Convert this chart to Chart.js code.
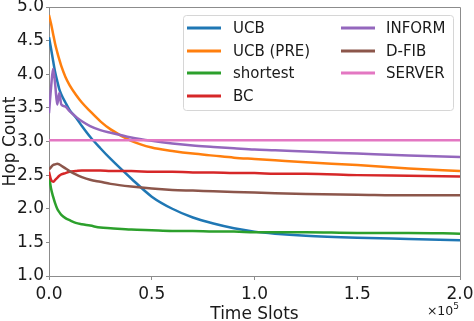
<!DOCTYPE html>
<html>
<head>
<meta charset="utf-8">
<script src="https://cdn.jsdelivr.net/npm/chart.js@4.4.0/dist/chart.umd.min.js"></script>
<style>
  html, body { margin: 0; padding: 0; background: #fff; }
  #wrap { width: 474px; height: 321px; position: relative; }
</style>
</head>
<body>
<div id="wrap"><canvas id="hopChart"></canvas></div>
<script>
//Data

const timeSlots = [0, 1000, 2000, 3000, 4000, 5000, 6000, 8000, 10000, 13000, 16000, 20000, 25000, 30000,
  40000, 50000, 60000, 70000, 80000, 90000, 100000, 110000, 125000, 150000, 175000, 200000];

const ucb = [4.55, 4.38, 4.20, 4.03, 3.90, 3.78, 3.70, 3.58, 3.47, 3.36, 3.23, 3.07, 2.90, 2.74,
  2.45, 2.18, 2.00, 1.87, 1.78, 1.71, 1.66, 1.63, 1.60, 1.57, 1.55, 1.53];
const ucbPre = [4.88, 4.75, 4.60, 4.45, 4.33, 4.22, 4.12, 3.96, 3.84, 3.70, 3.58, 3.45, 3.30, 3.18,
  3.01, 2.91, 2.86, 2.82, 2.79, 2.76, 2.74, 2.72, 2.69, 2.65, 2.60, 2.56];
const shortest = [2.50, 2.30, 2.18, 2.08, 2.00, 1.95, 1.91, 1.86, 1.83, 1.79, 1.77, 1.75, 1.72, 1.71,
  1.69, 1.68, 1.67, 1.67, 1.66, 1.66, 1.65, 1.65, 1.65, 1.64, 1.64, 1.63];
const bc = [2.55, 2.43, 2.40, 2.43, 2.46, 2.49, 2.51, 2.53, 2.55, 2.56, 2.57, 2.57, 2.57, 2.56,
  2.56, 2.55, 2.55, 2.54, 2.54, 2.53, 2.53, 2.52, 2.52, 2.50, 2.49, 2.48];
const inform = [3.42, 3.80, 4.08, 3.85, 3.55, 3.72, 3.55, 3.52, 3.45, 3.37, 3.30, 3.23, 3.17, 3.13,
  3.06, 3.01, 2.97, 2.94, 2.92, 2.90, 2.88, 2.87, 2.85, 2.82, 2.79, 2.77];
const dfib = [2.58, 2.62, 2.65, 2.66, 2.67, 2.66, 2.64, 2.60, 2.56, 2.51, 2.47, 2.43, 2.40, 2.37,
  2.33, 2.30, 2.28, 2.27, 2.26, 2.25, 2.24, 2.23, 2.22, 2.21, 2.20, 2.20];
const server = [3.02, 3.02, 3.02, 3.02, 3.02, 3.02, 3.02, 3.02, 3.02, 3.02, 3.02, 3.02, 3.02, 3.02,
  3.02, 3.02, 3.02, 3.02, 3.02, 3.02, 3.02, 3.02, 3.02, 3.02, 3.02, 3.02];

const seriesLabels = ['UCB', 'UCB (PRE)', 'shortest', 'BC', 'INFORM', 'D-FIB', 'SERVER'];
const seriesValues = [ucb, ucbPre, shortest, bc, inform, dfib, server];
const seriesColors = ['#1f77b4', '#ff7f0e', '#2ca02c', '#d62728', '#9467bd', '#8c564b', '#e377c2'];

const xTicks = [0, 50000, 100000, 150000, 200000];
const yTicks = [1.0, 1.5, 2.0, 2.5, 3.0, 3.5, 4.0, 4.5, 5.0];

//Helpers

const FONT = "'DejaVu Sans', sans-serif";
const SPINE = '#8c8c8c';
const toPoints = values => timeSlots.map((t, i) => ({ x: t, y: values[i] }));

const datasets = seriesLabels.map((label, i) => ({
  label,
  data: toPoints(seriesValues[i]),
  borderColor: seriesColors[i],
  backgroundColor: seriesColors[i],
  borderWidth: 2.5,
  pointRadius: 0,
  cubicInterpolationMode: 'monotone',
  order: -i
}));

// top/right spines, inner legend and the x10^5 offset text
const decorations = {
  id: 'decorations',
  afterDraw: chart => {
    const { ctx, chartArea: a } = chart;
    ctx.save();
    ctx.strokeStyle = SPINE;
    ctx.lineWidth = 1;
    ctx.beginPath();
    ctx.moveTo(Math.round(a.left) + 0.5, Math.round(a.top) + 0.5);
    ctx.lineTo(Math.round(a.right) + 0.5, Math.round(a.top) + 0.5);
    ctx.lineTo(Math.round(a.right) + 0.5, Math.round(a.bottom) + 0.5);
    ctx.stroke();

    // legend box
    const box = { x: 183.5, y: 15.5, w: 270, h: 95 };
    ctx.fillStyle = 'rgba(255,255,255,0.8)';
    ctx.strokeStyle = '#d6d6d6';
    ctx.beginPath();
    ctx.roundRect(box.x, box.y, box.w, box.h, 3);
    ctx.fill();
    ctx.stroke();

    const cols = [{ line: 187, text: 233 }, { line: 341, text: 386 }];
    const rows = [28, 51, 73, 96];
    ctx.font = '15px ' + FONT;
    ctx.textBaseline = 'middle';
    ctx.textAlign = 'left';
    chart.data.datasets.forEach((ds, i) => {
      const col = cols[i < 4 ? 0 : 1];
      const y = rows[i < 4 ? i : i - 4];
      ctx.strokeStyle = ds.borderColor;
      ctx.lineWidth = 3;
      ctx.beginPath();
      ctx.moveTo(col.line, y);
      ctx.lineTo(col.line + 34, y);
      ctx.stroke();
      ctx.fillStyle = '#1a1a1a';
      ctx.fillText(ds.label, col.text, y + 1);
    });

    // offset text
    ctx.fillStyle = '#1a1a1a';
    ctx.textBaseline = 'alphabetic';
    ctx.textAlign = 'right';
    ctx.font = '9px ' + FONT;
    ctx.fillText('5', 459, 309);
    const w5 = ctx.measureText('5').width;
    ctx.font = '12.5px ' + FONT;
    ctx.fillText('\u00d710', 459 - w5, 315);
    ctx.restore();
  }
};

const hopChart = new Chart(document.getElementById('hopChart'), {
  type: 'line',
  data: { datasets },
  options: {
    responsive: true,
    maintainAspectRatio: false,
    animation: false,
    layout: { padding: { top: 7, right: 14, left: 0, bottom: 0 } },
    plugins: { legend: { display: false }, tooltip: { enabled: false } },
    scales: {
      x: {
        type: 'linear',
        min: 0,
        max: 200000,
        afterBuildTicks: scale => { scale.ticks = xTicks.map(value => ({ value })); },
        afterFit: scale => { scale.height = 45; scale.paddingLeft = 0; scale.paddingRight = 0; },
        ticks: {
          color: '#1a1a1a',
          font: { family: FONT, size: 17 },
          padding: 4,
          maxRotation: 0,
          callback: v => (v / 1e5).toFixed(1)
        },
        grid: { drawOnChartArea: false, drawTicks: true, tickLength: 4, color: SPINE },
        border: { display: true, color: SPINE },
        title: {
          display: true,
          text: 'Time Slots',
          color: '#1a1a1a',
          font: { family: FONT, size: 17, lineHeight: 1 },
          padding: { top: 0, bottom: -2 }
        }
      },
      y: {
        min: 1,
        max: 5,
        afterBuildTicks: scale => { scale.ticks = yTicks.map(value => ({ value })); },
        afterFit: scale => { scale.width = 49; scale.paddingTop = 0; scale.paddingBottom = 0; },
        ticks: {
          color: '#1a1a1a',
          font: { family: FONT, size: 17 },
          padding: 2,
          callback: v => v.toFixed(1)
        },
        grid: { drawOnChartArea: false, drawTicks: true, tickLength: 3, color: SPINE },
        border: { display: true, color: SPINE },
        title: {
          display: true,
          text: 'Hop Count',
          color: '#1a1a1a',
          font: { family: FONT, size: 17, lineHeight: 1 },
          padding: { top: 2, bottom: 0 }
        }
      }
    }
  },
  plugins: [decorations]
});
</script>
</body>
</html>
